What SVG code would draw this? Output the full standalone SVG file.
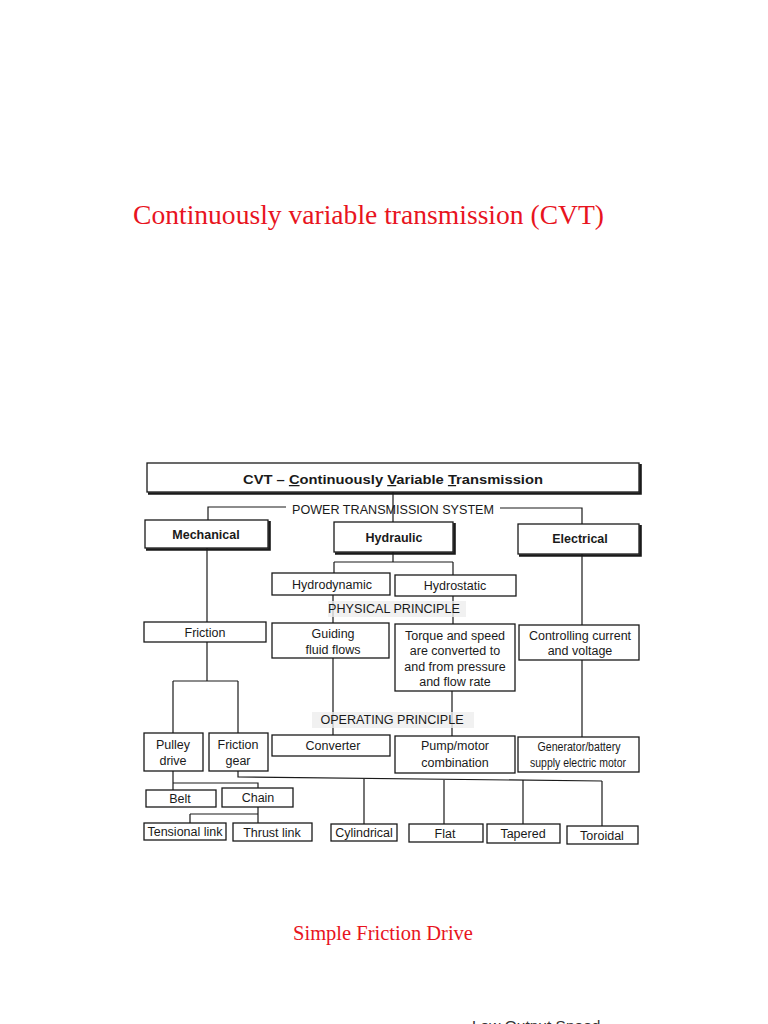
<svg xmlns="http://www.w3.org/2000/svg" width="768" height="1024" viewBox="0 0 768 1024">
<style>
.bx{fill:#fff;stroke:#1a1a1a;stroke-width:1.3}
.sh{fill:none;stroke:#1a1a1a;stroke-width:2.6}
.t{font-family:"Liberation Sans",Arial,sans-serif;font-size:12.5px;fill:#1a1a1a;text-anchor:middle}
.b{font-weight:bold}
.lbl{font-family:"Liberation Sans",Arial,sans-serif;font-size:12.6px;fill:#1a1a1a;text-anchor:middle}
.red{font-family:"Liberation Serif","Times New Roman",serif;fill:#e8141e}
.c{fill:none;stroke:#1a1a1a;stroke-width:1.2}
</style>
<rect width="768" height="1024" fill="#fff"/>
<text class="red" x="133" y="224" font-size="27" textLength="471" lengthAdjust="spacingAndGlyphs">Continuously variable transmission (CVT)</text>
<text class="red" x="383" y="940" font-size="20.5" text-anchor="middle">Simple Friction Drive</text>
<text x="472" y="1031" font-family="Liberation Sans,Arial,sans-serif" font-size="15.5" fill="#333">Low Output Speed</text>

<g id="connectors">
<path class="c" d="M393,492 V522"/>
<path class="c" d="M208,520 V507 H286"/>
<path class="c" d="M500,508 H582 V524"/>
<path class="c" d="M207,548 V622"/>
<path class="c" d="M393,552 V562 M334,562 H453 M334,562 V573 M453,562 V575"/>
<path class="c" d="M333,595 V623 M453,596 V624"/>
<path class="c" d="M582,554 V625 M582,660 V737"/>
<path class="c" d="M207,642 V681 M173,681 H238 M173,681 V733 M238,681 V733"/>
<path class="c" d="M333,658 V735 M452,691 V736"/>
<path class="c" d="M173,771 V790 M173,783 H258 V788"/>
<path class="c" d="M238,771 V777 L602,781"/>
<path class="c" d="M364,779 V824 M444,780 V824 M523,780 V824 M602,781 V826"/>
<path class="c" d="M258,807 V814 M190,814 H258 M190,814 V823 M258,814 V823"/>
</g>

<g id="title">
<rect class="bx" x="147" y="463" width="492" height="29"/>
<path class="sh" d="M640.5,464 V493.5 H148"/>
<text class="t b" x="393" y="484" font-size="16.5" textLength="300" lengthAdjust="spacingAndGlyphs">CVT – <tspan text-decoration="underline">C</tspan>ontinuously <tspan text-decoration="underline">V</tspan>ariable <tspan text-decoration="underline">T</tspan>ransmission</text>
</g>
<text class="lbl" x="393" y="514">POWER TRANSMISSION SYSTEM</text>

<g id="mechanical">
<rect class="bx" x="145" y="520" width="123" height="28"/>
<path class="sh" d="M269.5,521 V549.5 H146"/>
<text class="t b" x="206" y="539">Mechanical</text>
</g>
<g id="hydraulic">
<rect class="bx" x="334" y="522" width="119" height="30"/>
<path class="sh" d="M454.5,523 V553.5 H335"/>
<text class="t b" x="394" y="542">Hydraulic</text>
</g>
<g id="electrical">
<rect class="bx" x="518" y="524" width="121" height="30"/>
<path class="sh" d="M640.5,525 V555.5 H519"/>
<text class="t b" x="580" y="543">Electrical</text>
</g>

<g id="hydrodynamic">
<rect class="bx" x="272" y="573" width="118" height="22"/>
<text class="t" x="332" y="589">Hydrodynamic</text>
</g>
<g id="hydrostatic">
<rect class="bx" x="395" y="575" width="121" height="21"/>
<text class="t" x="455" y="590">Hydrostatic</text>
</g>

<rect x="328" y="601" width="138" height="16" fill="#eeeeee" opacity="0.8"/>
<text class="lbl" x="394" y="613">PHYSICAL PRINCIPLE</text>

<g id="friction">
<rect class="bx" x="144" y="622" width="122" height="20"/>
<text class="t" x="205" y="637">Friction</text>
</g>
<g id="guiding">
<rect class="bx" x="272" y="623" width="117" height="35"/>
<text class="t" x="333" y="638">Guiding</text>
<text class="t" x="333" y="654">fluid flows</text>
</g>
<g id="torque">
<rect class="bx" x="395" y="624" width="120" height="67"/>
<text class="t" x="455" y="640">Torque and speed</text>
<text class="t" x="455" y="655">are converted to</text>
<text class="t" x="455" y="671">and from pressure</text>
<text class="t" x="455" y="686">and flow rate</text>
</g>
<g id="controlling">
<rect class="bx" x="519" y="625" width="120" height="35"/>
<text class="t" x="580" y="640">Controlling current</text>
<text class="t" x="580" y="655">and voltage</text>
</g>

<rect x="312" y="712" width="162" height="16" fill="#eeeeee" opacity="0.8"/>
<text class="lbl" x="392" y="724">OPERATING PRINCIPLE</text>

<g id="pulley">
<rect class="bx" x="144" y="733" width="59" height="38"/>
<text class="t" x="173" y="749">Pulley</text>
<text class="t" x="173" y="765">drive</text>
</g>
<g id="frictiongear">
<rect class="bx" x="209" y="733" width="59" height="38"/>
<text class="t" x="238" y="749">Friction</text>
<text class="t" x="238" y="765">gear</text>
</g>
<g id="converter">
<rect class="bx" x="272" y="735" width="118" height="21"/>
<text class="t" x="333" y="750">Converter</text>
</g>
<g id="pump">
<rect class="bx" x="395" y="736" width="120" height="37"/>
<text class="t" x="455" y="750">Pump/motor</text>
<text class="t" x="455" y="767">combination</text>
</g>
<g id="generator">
<rect class="bx" x="518" y="737" width="121" height="35"/>
<text class="t" x="579" y="751" font-size="11" textLength="83" lengthAdjust="spacingAndGlyphs">Generator/battery</text>
<text class="t" x="578" y="767" font-size="11" textLength="96" lengthAdjust="spacingAndGlyphs">supply electric motor</text>
</g>

<g id="belt">
<rect class="bx" x="146" y="790" width="70" height="17"/>
<text class="t" x="180" y="803">Belt</text>
</g>
<g id="chain">
<rect class="bx" x="222" y="788" width="71" height="19"/>
<text class="t" x="258" y="802">Chain</text>
</g>
<g id="tensional">
<rect class="bx" x="144" y="823" width="82" height="17"/>
<text class="t" x="185" y="836">Tensional link</text>
</g>
<g id="thrust">
<rect class="bx" x="233" y="823" width="79" height="18"/>
<text class="t" x="272" y="837">Thrust link</text>
</g>
<g id="cylindrical">
<rect class="bx" x="331" y="824" width="66" height="17"/>
<text class="t" x="364" y="837">Cylindrical</text>
</g>
<g id="flat">
<rect class="bx" x="409" y="824" width="74" height="18"/>
<text class="t" x="445" y="838">Flat</text>
</g>
<g id="tapered">
<rect class="bx" x="487" y="824" width="73" height="19"/>
<text class="t" x="523" y="838">Tapered</text>
</g>
<g id="toroidal">
<rect class="bx" x="567" y="826" width="71" height="18"/>
<text class="t" x="602" y="840">Toroidal</text>
</g>
</svg>
